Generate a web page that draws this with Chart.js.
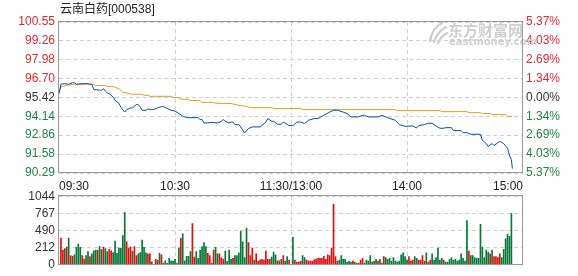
<!DOCTYPE html>
<html>
<head>
<meta charset="utf-8">
<script src="https://cdn.jsdelivr.net/npm/chart.js@4.4.0/dist/chart.umd.min.js"></script>
<style>
html, body { margin: 0; padding: 0; background: #fff; }
#wrap { position: relative; width: 578px; height: 276px; overflow: hidden; }
#priceChart { position: absolute; left: 0; top: 0; }
#volChart { position: absolute; left: 0; top: 185px; }
</style>
</head>
<body>
<div id="wrap">
  <canvas id="priceChart" width="578" height="195"></canvas>
  <canvas id="volChart" width="578" height="91"></canvas>
</div>
<script>
// 分时数据 (分钟序号 0 = 09:30, 120 = 11:30/13:00, 240 = 15:00)
var title = '云南白药[000538]';

var timeTicks = [0, 60, 120, 180, 240];
var timeLabels = ['09:30', '10:30', '11:30/13:00', '14:00', '15:00'];

var priceTicks = [90.29, 91.58, 92.86, 94.14, 95.42, 96.70, 97.98, 99.26, 100.55];
var priceTickLabels = ['90.29', '91.58', '92.86', '94.14', '95.42', '96.70', '97.98', '99.26', '100.55'];
var pctTickLabels = ['5.37%', '4.03%', '2.69%', '1.34%', '0.00%', '1.34%', '2.69%', '4.03%', '5.37%'];

var priceMin = [0, 1, 3, 5, 7, 8, 9, 12, 15, 16, 17, 18, 22, 23, 24, 25, 26, 28, 29, 31,
  32, 34, 35, 37, 38, 40, 41, 42, 43, 45, 46, 48, 49, 51, 53, 54, 56, 58, 60, 62,
  64, 66, 72, 73, 74, 75, 77, 79, 82, 84, 85, 86, 88, 89, 90, 91, 93, 94, 96, 98,
  100, 104, 105, 107, 108, 110, 111, 113, 115, 116, 118, 119, 121, 123, 125, 127, 129, 132, 134, 136,
  140, 142, 144, 147, 149, 151, 155, 157, 158, 160, 165, 167, 170, 174, 176, 179, 181, 183, 185, 186,
  189, 191, 193, 195, 197, 199, 200, 203, 204, 208, 209, 211, 213, 218, 219, 221, 222, 224, 225, 227,
  228, 230, 232, 233, 234, 234.5];
var priceVal = [95.68, 96.32, 96.36, 96.32, 96.43, 96.43, 96.32, 96.36, 96.36, 96.32, 96.32, 95.96, 95.91, 96.02, 95.86, 95.73, 95.68, 95.45, 95.23, 95.03,
  94.77, 94.43, 94.60, 94.71, 94.71, 94.94, 94.94, 94.77, 94.55, 94.55, 94.64, 94.60, 94.60, 94.71, 94.80, 94.80, 94.67, 94.55, 94.50, 94.33,
  94.16, 94.05, 94.05, 93.92, 93.92, 93.69, 93.69, 93.73, 93.69, 93.80, 93.92, 93.80, 93.69, 93.75, 93.75, 93.58, 93.58, 93.42, 93.01, 93.31,
  93.42, 93.42, 93.53, 93.75, 93.99, 93.80, 93.80, 93.60, 93.60, 93.75, 93.60, 93.51, 93.51, 93.75, 93.75, 93.65, 93.87, 93.99, 93.99, 94.14,
  94.43, 94.55, 94.55, 94.43, 94.33, 94.10, 94.10, 94.21, 94.21, 94.10, 94.10, 94.21, 94.05, 93.87, 93.58, 93.46, 93.48, 93.48, 93.35, 93.51,
  93.58, 93.67, 93.67, 93.48, 93.33, 93.33, 93.37, 93.37, 93.17, 93.17, 93.03, 93.03, 92.92, 92.92, 92.51, 92.29, 92.10, 92.29, 92.15, 92.35,
  92.44, 92.29, 91.98, 91.49, 91.20, 90.59];

var avgMin = [0, 1, 4, 8, 18, 19, 24, 25, 28, 30, 31.5, 33, 35, 38, 43, 44, 46, 47, 58, 59,
  62, 63, 67, 68, 73, 74, 80, 81, 89, 93, 97, 99, 110, 111, 125, 126, 174, 175, 197, 198,
  211, 212, 218, 219, 223, 224, 231, 232, 234.5];
var avgVal = [95.79, 96.13, 96.25, 96.32, 96.32, 96.23, 96.23, 96.16, 96.16, 96.07, 95.96, 95.77, 95.73, 95.64, 95.64, 95.57, 95.57, 95.50, 95.50, 95.41,
  95.41, 95.30, 95.30, 95.21, 95.21, 95.09, 95.09, 95.03, 95.01, 94.89, 94.82, 94.73, 94.73, 94.67, 94.67, 94.60, 94.60, 94.53, 94.53, 94.46,
  94.46, 94.39, 94.39, 94.33, 94.33, 94.26, 94.26, 94.14, 94.12];

var volTicks = [0, 261, 522, 783, 1044];
var volTickLabels = ['0', '212', '490', '767', '1044'];

// 成交量, 从第1分钟开始
var volume = [408, 223, 246, 269, 408, 139, 130, 153, 264, 316,
  264, 139, 84, 139, 200, 125, 167, 213, 223, 223,
  278, 232, 269, 246, 200, 237, 213, 186, 362, 176,
  255, 255, 445, 793, 348, 255, 269, 209, 278, 139,
  167, 186, 376, 264, 181, 167, 167, 46, null, 84,
  70, 176, 153, 28, 60, 23, 97, 60, 56, 84,
  23, 255, 404, 473, 60, 130, 130, 200, 626, 116,
  200, 97, 223, 278, 339, 278, 176, 139, 28, 223,
  264, 167, 167, 107, 84, 209, 51, 223, 84, 97,
  139, 139, 181, 515, 348, 111, 557, 339, 139, 255,
  70, 167, 51, 74, 84, 70, 209, 84, 84, 116,
  195, 153, 60, 60, 84, 139, 56, 125, 70, null,
  418, 70, 42, 42, 51, 139, 111, 70, 56, 56,
  56, 74, 88, 97, 97, 97, 130, 84, 153, 139,
  255, 919, 125, 56, 70, 139, 84, 84, 42, 56,
  42, 56, 42, 23, 28, 70, 97, 28, 70, 56,
  139, 42, 56, 84, 56, 84, 28, 125, 111, 84,
  97, 56, 111, 56, 42, 56, 153, 181, 125, 70,
  125, 56, 70, 125, 97, 70, 70, 139, 56, 181,
  42, 70, 167, 70, 111, 255, 70, 97, 70, 42,
  42, 84, 111, 70, 84, 56, 70, 167, 97, 56,
  673, 209, 139, 139, 111, 97, 97, 617, 269, 111,
  223, 195, 167, 223, 125, 125, 111, 167, 111, 237,
  394, 464, 432, 780];
// r = 红 (上涨), g = 绿 (下跌)
var volSide = ['r','r','g','r','g','r','r','g','g','g',
  'g','r','r','g','g','r','g','g','g','r',
  'g','g','r','g','g','r','r','g','g','g',
  'g','g','g','g','r','r','r','g','r','r',
  'g','g','g','g','g','r','r','g','g','r',
  'r','g','r','g','g','g','g','g','g','g',
  'g','g','r','g','g','g','g','g','r','r',
  'g','g','g','g','g','g','r','r','r','r',
  'g','g','r','r','r','g','g','g','g','r',
  'g','g','g','g','g','g','g','r','r','r',
  'g','r','r','r','r','r','r','r','r','g',
  'g','g','r','r','g','r','g','g','r','g',
  'g','r','r','r','r','g','g','r','r','r',
  'r','r','r','r','r','r','r','r','r','r',
  'r','r','r','r','g','g','g','g','g','g',
  'g','r','g','r','g','r','r','g','g','g',
  'g','r','g','g','r','g','r','r','g','g',
  'g','g','g','g','g','g','g','g','g','g',
  'r','r','r','g','g','r','r','r','r','g',
  'r','r','g','g','g','g','g','g','r','g',
  'g','g','g','g','g','g','g','g','g','g',
  'g','r','g','g','g','g','g','g','g','g',
  'g','g','r','g','r','r','r','r','g','g',
  'g','g','g','g'];

var RED = '#e5262e';
var GREEN = '#1e8449';
var GRID = '#d0d0d0';

Chart.defaults.font.family = "'Liberation Sans', Arial, sans-serif";
Chart.defaults.font.size = 12;
Chart.defaults.animation = false;

// 外框
var frame = {
  id: 'frame',
  afterDraw: function(chart) {
    var a = chart.chartArea, c = chart.ctx;
    c.save();
    c.strokeStyle = '#999';
    c.lineWidth = 1;
    c.strokeRect(Math.round(a.left) - 0.5, Math.round(a.top) - 0.5,
      Math.round(a.right - a.left), Math.round(a.bottom - a.top));
    c.restore();
  }
};

// 标题和水印
var decor = {
  id: 'decor',
  beforeDatasetsDraw: function(chart) {
    var c = chart.ctx;
    c.save();
    c.fillStyle = '#222';
    c.font = "12px 'Liberation Sans', 'Noto Sans CJK SC', sans-serif";
    c.textBaseline = 'middle';
    c.fillText(title, 60, 10);

    c.fillStyle = '#cfcfcf';
    c.strokeStyle = '#cfcfcf';
    c.font = "bold 15px 'Noto Sans CJK SC', sans-serif";
    c.fillText('东方财富网', 448, 30);
    c.font = "bold 10px 'DejaVu Sans', sans-serif";
    c.fillText('eastmoney.com', 449, 42.5);
    c.lineWidth = 2.5;
    c.lineCap = 'round';
    c.beginPath(); c.moveTo(430, 41); c.quadraticCurveTo(432, 28, 442, 23); c.stroke();
    c.beginPath(); c.moveTo(434, 42); c.quadraticCurveTo(437, 32, 446, 27); c.stroke();
    c.beginPath(); c.moveTo(438, 43); c.quadraticCurveTo(441, 36, 447, 33); c.stroke();
    c.restore();
  }
};

function hideEdges(ctx) {
  if (ctx.tick && (ctx.tick.value === 0 || ctx.tick.value === 240)) return 'rgba(0,0,0,0)';
  return GRID;
}

function priceColor(ctx) {
  if (ctx.index < 4) return GREEN;
  if (ctx.index > 4) return RED;
  return '#333';
}

var priceChart = new Chart(document.getElementById('priceChart'), {
  type: 'line',
  data: {
    datasets: [
      {
        data: priceMin.map(function(m, i) { return { x: m, y: priceVal[i] }; }),
        borderColor: '#0a4ca0',
        borderWidth: 1,
        pointRadius: 0,
        tension: 0
      },
      {
        data: avgMin.map(function(m, i) { return { x: m, y: avgVal[i] }; }),
        borderColor: '#dca11f',
        borderWidth: 1,
        pointRadius: 0,
        tension: 0
      }
    ]
  },
  options: {
    responsive: false,
    layout: { padding: { top: 22, left: 0, right: 0, bottom: 0 } },
    plugins: { legend: { display: false }, tooltip: { enabled: false } },
    scales: {
      x: {
        type: 'linear', min: 0, max: 240,
        afterBuildTicks: function(s) { s.ticks = timeTicks.map(function(v) { return { value: v }; }); },
        afterFit: function(s) { s.height = 22; },
        grid: { color: hideEdges, drawTicks: false },
        border: { display: false, dash: [4, 3] },
        ticks: {
          align: 'inner', maxRotation: 0, autoSkip: false, padding: 6, color: '#222',
          callback: function(v, i) { return timeLabels[i]; }
        }
      },
      y: {
        position: 'left', min: 90.29, max: 100.55,
        afterBuildTicks: function(s) { s.ticks = priceTicks.map(function(v) { return { value: v }; }); },
        afterFit: function(s) { s.width = 59; },
        grid: { color: GRID, drawTicks: false },
        border: { display: false, dash: [4, 3] },
        ticks: { padding: 4, color: priceColor, callback: function(v, i) { return priceTickLabels[i]; } }
      },
      y2: {
        position: 'right', min: 90.29, max: 100.55,
        afterBuildTicks: function(s) { s.ticks = priceTicks.map(function(v) { return { value: v }; }); },
        afterFit: function(s) { s.width = 55; },
        grid: { display: false, drawTicks: false },
        border: { display: false },
        ticks: { padding: 3, color: priceColor, callback: function(v, i) { return pctTickLabels[i]; } }
      }
    }
  },
  plugins: [decor, frame]
});

var volPoints = [];
var volColors = [];
volume.forEach(function(v, i) {
  if (v === null) return;
  volPoints.push({ x: i + 1, y: v });
  volColors.push(volSide[i] === 'r' ? '#ea0a0a' : '#007a36');
});

var volChart = new Chart(document.getElementById('volChart'), {
  type: 'bar',
  data: {
    datasets: [{
      data: volPoints,
      backgroundColor: volColors,
      barThickness: 1
    }]
  },
  options: {
    responsive: false,
    layout: { padding: { top: 11, right: 55, left: 0, bottom: 0 } },
    plugins: { legend: { display: false }, tooltip: { enabled: false } },
    scales: {
      x: {
        type: 'linear', min: 0, max: 240, offset: false,
        afterBuildTicks: function(s) { s.ticks = timeTicks.map(function(v) { return { value: v }; }); },
        afterFit: function(s) { s.height = 5; },
        grid: { color: hideEdges, drawTicks: false, offset: false },
        border: { display: false, dash: [4, 3] },
        ticks: { display: false }
      },
      y: {
        min: 0, max: 1044,
        afterBuildTicks: function(s) { s.ticks = volTicks.map(function(v) { return { value: v }; }); },
        afterFit: function(s) { s.width = 59; },
        grid: { color: GRID, drawTicks: false },
        border: { display: false, dash: [4, 3] },
        ticks: { padding: 4, color: '#333', callback: function(v, i) { return volTickLabels[i]; } }
      }
    }
  },
  plugins: [frame]
});
</script>
</body>
</html>
